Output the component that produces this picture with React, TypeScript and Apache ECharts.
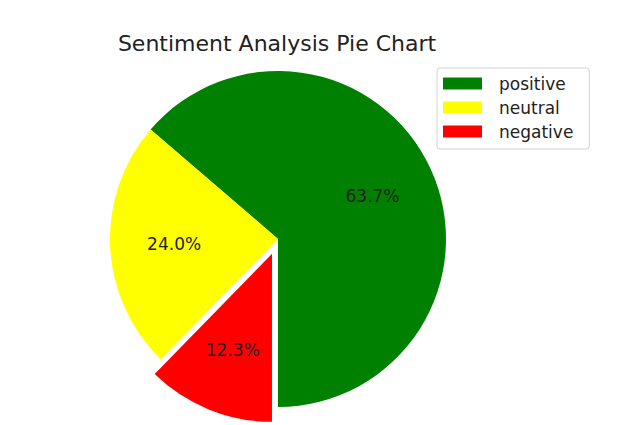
import React, { useEffect, useRef } from 'react'
import * as echarts from 'echarts'

const categories = ['positive', 'neutral', 'negative']
const shares = [63.7, 24.0, 12.3]
const colors = ['#008000', '#ffff00', '#ff0000']
const exploded = ['negative']

const FONT = '"DejaVu Sans", sans-serif'

const App: React.FC = () => {
    const chartRef = useRef<HTMLDivElement>(null)

    useEffect(() => {
        const chart = echarts.init(chartRef.current, null, { renderer: 'svg' })

        const slices = categories.map((name, i) => ({
            name,
            value: shares[i],
            selected: exploded.includes(name),
            itemStyle: { color: colors[i] },
        }))

        const common = {
            type: 'pie',
            center: [270, 231],
            clockwise: false,
            startAngle: -90,
            selectedMode: 'multiple',
            selectedOffset: 16,
            avoidLabelOverlap: false,
            silent: true,
        }

        const option = {
            animation: false,
            title: {
                text: 'Sentiment Analysis Pie Chart',
                left: 264,
                top: 19,
                textAlign: 'center',
                textStyle: { fontFamily: FONT, fontSize: 22, fontWeight: 'normal', color: '#222' },
            },
            legend: {
                orient: 'vertical',
                left: 429,
                top: 60,
                data: categories,
                icon: 'rect',
                itemWidth: 39,
                itemHeight: 12,
                itemGap: 7,
                padding: [7, 16, 9, 6],
                borderColor: '#d0d0d0',
                borderWidth: 1,
                borderRadius: 3,
                textStyle: { fontFamily: FONT, fontSize: 17, color: '#222', padding: [0, 0, 0, 12] },
            },
            series: [
                {
                    ...common,
                    radius: [0, 168],
                    label: { show: false },
                    labelLine: { show: false },
                    data: slices,
                },
                {
                    // label-only ring so the percentages sit at 0.6 of the radius
                    ...common,
                    radius: [34, 168],
                    itemStyle: { color: 'transparent' },
                    label: {
                        show: true,
                        position: 'inside',
                        formatter: (p: any) => p.value.toFixed(1) + '%',
                        fontFamily: FONT,
                        fontSize: 17,
                        color: '#222',
                    },
                    labelLine: { show: false },
                    data: slices.map((s) => ({ ...s, itemStyle: { color: 'transparent' } })),
                },
            ],
        }

        chart.setOption(option)
        return () => {
            chart.dispose()
        }
    }, [])

    return <div ref={chartRef} style={{ width: '622px', height: '417px' }} />
}

export default App
